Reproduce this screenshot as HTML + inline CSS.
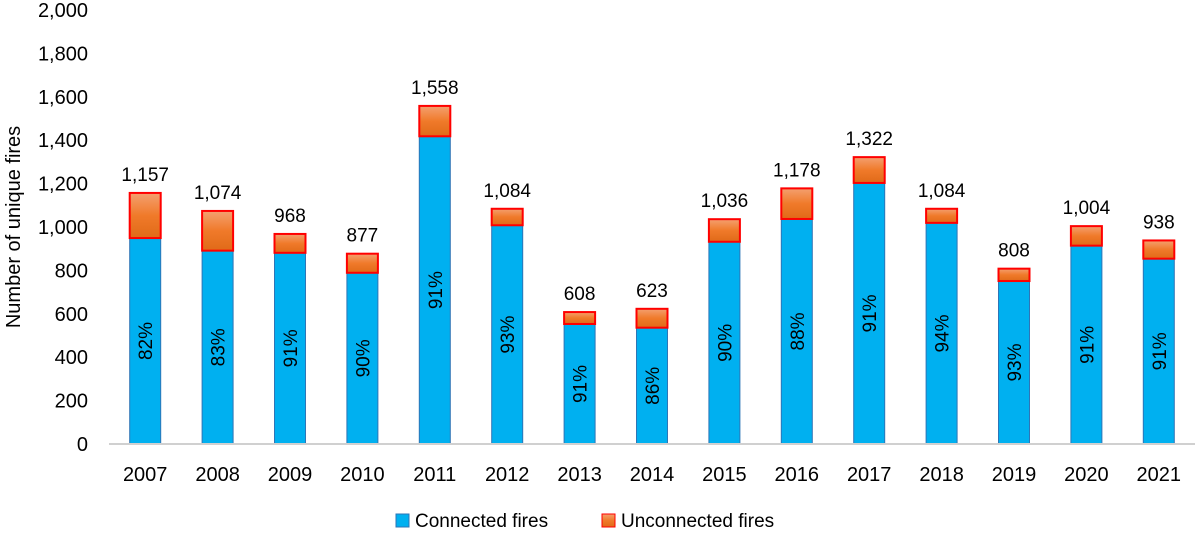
<!DOCTYPE html>
<html><head><meta charset="utf-8"><style>
html,body{margin:0;padding:0;background:#fff;width:1200px;height:535px;overflow:hidden}
svg text{font-family:"Liberation Sans",sans-serif;fill:#000}
</style></head><body>
<svg id="chart" width="1200" height="535" viewBox="0 0 1200 535" xmlns="http://www.w3.org/2000/svg">
<defs>
<linearGradient id="og" x1="0" y1="0" x2="0" y2="1">
<stop offset="0" stop-color="#F4A070"/><stop offset="0.5" stop-color="#F07A2A"/><stop offset="1" stop-color="#E06A18"/>
</linearGradient>
</defs>
<g id="yaxis"></g>
<g id="bars"></g>
<g id="xaxis"></g>
<text transform="translate(20,227) rotate(-90)" text-anchor="middle" font-size="20">Number of unique fires</text>
<g>
<g>
<rect x="396" y="514" width="13" height="13" fill="#00B0F0" stroke="#2E75B6" stroke-width="1"/>
<text x="415" y="527" font-size="19">Connected fires</text></g>
<g>
<rect x="602" y="514" width="13" height="13" fill="url(#og)" stroke="#FF0000" stroke-width="1"/>
<text x="621" y="527" font-size="19">Unconnected fires</text></g>
</g>
</svg>
<script>
const years=["2007","2008","2009","2010","2011","2012","2013","2014","2015","2016","2017","2018","2019","2020","2021"];
const totals=[1157,1074,968,877,1558,1084,608,623,1036,1178,1322,1084,808,1004,938];
const connected=[949,891,881,789,1418,1008,553,536,932,1037,1203,1019,751,914,854];
const pctLabels=["82%","83%","91%","90%","91%","93%","91%","86%","90%","88%","91%","94%","93%","91%","91%"];
const totalLabels=["1,157","1,074","968","877","1,558","1,084","608","623","1,036","1,178","1,322","1,084","808","1,004","938"];
const yTicks=[0,200,400,600,800,1000,1200,1400,1600,1800,2000];
const yTickLabels=["0","200","400","600","800","1,000","1,200","1,400","1,600","1,800","2,000"];
const NS="http://www.w3.org/2000/svg";
const x0=109,x1=1195,y0=444,yTop=10,yMax=2000,bw=31;
const band=(x1-x0)/years.length;
const xc=i=>x0+band*(i+0.5);
const ys=v=>y0-(v/yMax)*(y0-yTop);
function mk(tag,attrs,parent){const e=document.createElementNS(NS,tag);for(const k in attrs)e.setAttribute(k,attrs[k]);parent.appendChild(e);return e;}
const ya=document.getElementById('yaxis'),ba=document.getElementById('bars'),xa=document.getElementById('xaxis');
yTicks.forEach((t,i)=>{const tx=mk('text',{x:88,y:ys(t)+7,'text-anchor':'end','font-size':'20'},ya);tx.textContent=yTickLabels[i];

});
const axl=mk('line',{x1:x0,x2:x1,y1:y0,y2:y0,stroke:'#D0D0D0','stroke-width':2},xa);


years.forEach((yr,i)=>{
const cx=xc(i),l=cx-bw/2;
const g=mk('g',{},ba);


const r1=mk('rect',{x:l,y:ys(connected[i]),width:bw,height:y0-ys(connected[i]),fill:'#00B0F0',stroke:'#2E75B6','stroke-width':1},g);


const r2=mk('rect',{x:l,y:ys(totals[i]),width:bw,height:ys(connected[i])-ys(totals[i]),fill:'url(#og)',stroke:'#FF0000','stroke-width':2},g);


const my=(y0+ys(connected[i]))/2;
const pt=mk('text',{x:cx,y:my,'text-anchor':'middle','font-size':'19',transform:`rotate(-90 ${cx} ${my})`,dy:'7'},g);
pt.textContent=pctLabels[i];


const tt=mk('text',{x:cx,y:ys(totals[i])-12,'text-anchor':'middle','font-size':'19'},g);
tt.textContent=totalLabels[i];


const xl=mk('text',{x:cx,y:481,'text-anchor':'middle','font-size':'20'},xa);
xl.textContent=yr;


});
</script>
</body></html>
